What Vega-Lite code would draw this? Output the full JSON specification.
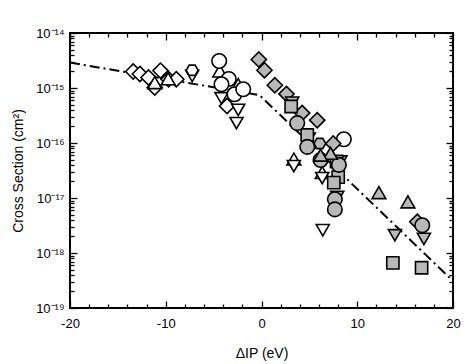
{
  "$schema": "https://vega.github.io/schema/vega-lite/v6.json",
  "width": 383,
  "height": 275,
  "autosize": "none",
  "padding": {"left": 70, "top": 33, "right": 21, "bottom": 56},
  "background": "white",
  "config": {
    "view": {"stroke": "black", "strokeWidth": 2},
    "font": "Liberation Sans",
    "axis": {"domain": false, "grid": false, "labelFlush": false, "labelOverlap": false, "tickColor": "black", "tickWidth": 1.3, "labelColor": "black", "titleColor": "black", "labelFont": "Liberation Sans", "titleFont": "Liberation Sans", "labelFontSize": 13, "titleFontSize": 14, "titleFontWeight": "normal"}
  },
  "datasets": {
    "fit": [
      {"x": -20, "y": 2.9e-15},
      {"x": -0.2, "y": 7.4e-16},
      {"x": 20, "y": 3.1e-19}
    ],
    "open": [
      {"x": -13.4, "y": 2.0e-15, "marker": "diamond", "fill": "open"},
      {"x": -12.7, "y": 1.8e-15, "marker": "diamond", "fill": "open"},
      {"x": -11.8, "y": 1.55e-15, "marker": "diamond", "fill": "open"},
      {"x": -10.55, "y": 2.07e-15, "marker": "diamond", "fill": "open"},
      {"x": -9.7, "y": 1.44e-15, "marker": "diamond", "fill": "open"},
      {"x": -8.9, "y": 1.44e-15, "marker": "diamond", "fill": "open"},
      {"x": -11.15, "y": 1.02e-15, "marker": "diamond", "fill": "open"},
      {"x": -3.6, "y": 4.7e-16, "marker": "diamond", "fill": "open"},
      {"x": -11.15, "y": 1.25e-15, "marker": "triangle-up", "fill": "open"},
      {"x": -9.75, "y": 1.47e-15, "marker": "triangle-up", "fill": "open"},
      {"x": -4.36, "y": 2.04e-15, "marker": "triangle-up", "fill": "open"},
      {"x": -2.43, "y": 1.15e-15, "marker": "triangle-up", "fill": "open"},
      {"x": 3.38, "y": 5.1e-17, "marker": "triangle-up", "fill": "open"},
      {"x": 6.34, "y": 2.9e-17, "marker": "triangle-up", "fill": "open"},
      {"x": -7.24, "y": 1.65e-15, "marker": "triangle-down", "fill": "open"},
      {"x": -4.18, "y": 6.5e-16, "marker": "triangle-down", "fill": "open"},
      {"x": -2.43, "y": 4.0e-16, "marker": "triangle-down", "fill": "open"},
      {"x": -2.61, "y": 2.3e-16, "marker": "triangle-down", "fill": "open"},
      {"x": 3.38, "y": 3.8e-17, "marker": "triangle-down", "fill": "open"},
      {"x": 6.34, "y": 2.3e-17, "marker": "triangle-down", "fill": "open"},
      {"x": 6.4, "y": 2.6e-18, "marker": "triangle-down", "fill": "open"},
      {"x": -4.42, "y": 3.1e-15, "marker": "circle", "fill": "open"},
      {"x": -3.42, "y": 1.46e-15, "marker": "circle", "fill": "open"},
      {"x": -4.18, "y": 1.17e-15, "marker": "circle", "fill": "open"},
      {"x": -2.82, "y": 7.7e-16, "marker": "circle", "fill": "open"},
      {"x": -1.91, "y": 9.5e-16, "marker": "circle", "fill": "open"},
      {"x": 8.6, "y": 1.17e-16, "marker": "circle", "fill": "open"}
    ],
    "filled": [
      {"x": -0.28, "y": 3.3e-15, "marker": "diamond", "fill": "filled"},
      {"x": 0.31, "y": 2.1e-15, "marker": "diamond", "fill": "filled"},
      {"x": 1.39, "y": 1.12e-15, "marker": "diamond", "fill": "filled"},
      {"x": 2.61, "y": 7.8e-16, "marker": "diamond", "fill": "filled"},
      {"x": 4.25, "y": 3.5e-16, "marker": "diamond", "fill": "filled"},
      {"x": 5.82, "y": 2.6e-16, "marker": "diamond", "fill": "filled"},
      {"x": 7.49, "y": 9.8e-17, "marker": "diamond", "fill": "filled"},
      {"x": 16.27, "y": 3.7e-18, "marker": "diamond", "fill": "filled"},
      {"x": 3.21, "y": 5.4e-16, "marker": "triangle-down", "fill": "filled"},
      {"x": 4.94, "y": 1.2e-16, "marker": "triangle-down", "fill": "filled"},
      {"x": 8.25, "y": 4.6e-17, "marker": "triangle-down", "fill": "filled"},
      {"x": 7.91, "y": 1.05e-17, "marker": "triangle-down", "fill": "filled"},
      {"x": 13.93, "y": 2.1e-18, "marker": "triangle-down", "fill": "filled"},
      {"x": 16.96, "y": 1.8e-18, "marker": "triangle-down", "fill": "filled"},
      {"x": 3.1, "y": 4.6e-16, "marker": "square", "fill": "filled"},
      {"x": 4.78, "y": 1.4e-16, "marker": "square", "fill": "filled"},
      {"x": 7.84, "y": 4.6e-17, "marker": "square", "fill": "filled"},
      {"x": 8.01, "y": 2.4e-17, "marker": "square", "fill": "filled"},
      {"x": 7.55, "y": 1.9e-17, "marker": "square", "fill": "filled"},
      {"x": 13.72, "y": 6.6e-19, "marker": "square", "fill": "filled"},
      {"x": 16.72, "y": 5.4e-19, "marker": "square", "fill": "filled"},
      {"x": 3.73, "y": 2.3e-16, "marker": "circle", "fill": "filled"},
      {"x": 4.78, "y": 8.5e-17, "marker": "circle", "fill": "filled"},
      {"x": 6.17, "y": 4.9e-17, "marker": "circle", "fill": "filled"},
      {"x": 8.08, "y": 4.0e-17, "marker": "circle", "fill": "filled"},
      {"x": 7.66, "y": 9.5e-18, "marker": "circle", "fill": "filled"},
      {"x": 7.66, "y": 6.2e-18, "marker": "circle", "fill": "filled"},
      {"x": 16.79, "y": 3.2e-18, "marker": "circle", "fill": "filled"},
      {"x": 7.21, "y": 6.5e-17, "marker": "triangle-up", "fill": "filled"},
      {"x": 6.17, "y": 6.0e-17, "marker": "triangle-up", "fill": "filled"},
      {"x": 12.26, "y": 1.25e-17, "marker": "triangle-up", "fill": "filled"},
      {"x": 15.29, "y": 8.5e-18, "marker": "triangle-up", "fill": "filled"}
    ],
    "hex": [
      {"x": -7.24, "y": 2.1e-15, "fill": "open"},
      {"x": 6.09, "y": 9.8e-17, "fill": "filled"}
    ]
  },
  "resolve": {"axis": {"x": "independent", "y": "independent"}},
  "layer": [
    {
      "data": {"name": "fit"},
      "mark": {"type": "line", "color": "black", "strokeWidth": 2, "strokeDash": [10, 4, 2, 4]},
      "encoding": {
        "x": {"field": "x", "type": "quantitative", "scale": {"domain": [-20, 20], "nice": false},
              "axis": {"orient": "bottom", "values": [-20, -10, 0, 10, 20], "tickSize": -7, "labelPadding": 16, "title": "ΔIP (eV)", "titlePadding": 16,
                       "labelExpr": "(datum.value < 0 ? '-' : '') + abs(datum.value)"}},
        "y": {"field": "y", "type": "quantitative", "scale": {"type": "log", "domain": [1e-19, 1e-14], "nice": false},
              "axis": {"orient": "left", "values": [1e-19, 1e-18, 1e-17, 1e-16, 1e-15, 1e-14], "tickSize": -7, "labelPadding": 13, "title": "Cross Section (cm²)", "titlePadding": 10,
                       "labelExpr": "datum.value < 5e-19 ? '10⁻¹⁹' : datum.value < 5e-18 ? '10⁻¹⁸' : datum.value < 5e-17 ? '10⁻¹⁷' : datum.value < 5e-16 ? '10⁻¹⁶' : datum.value < 5e-15 ? '10⁻¹⁵' : '10⁻¹⁴'"}}
      }
    },
    {
      "data": {"name": "open"},
      "mark": {"type": "point", "filled": true, "stroke": "black", "strokeWidth": 1.6, "opacity": 1},
      "encoding": {
        "x": {"field": "x", "type": "quantitative", "scale": {"domain": [-20, 20], "nice": false},
              "axis": {"orient": "bottom", "values": [-18, -16, -14, -12, -8, -6, -4, -2, 2, 4, 6, 8, 12, 14, 16, 18], "tickSize": -4, "labels": false, "title": null}},
        "y": {"field": "y", "type": "quantitative", "scale": {"type": "log", "domain": [1e-19, 1e-14], "nice": false},
              "axis": {"orient": "left", "values": [2e-19, 3e-19, 4e-19, 5e-19, 6e-19, 7e-19, 8e-19, 9e-19, 2e-18, 3e-18, 4e-18, 5e-18, 6e-18, 7e-18, 8e-18, 9e-18, 2e-17, 3e-17, 4e-17, 5e-17, 6e-17, 7e-17, 8e-17, 9e-17, 2e-16, 3e-16, 4e-16, 5e-16, 6e-16, 7e-16, 8e-16, 9e-16, 2e-15, 3e-15, 4e-15, 5e-15, 6e-15, 7e-15, 8e-15, 9e-15], "tickSize": -4, "labels": false, "title": null}},
        "shape": {"field": "marker", "type": "nominal", "scale": {"domain": ["diamond", "circle", "triangle-up", "triangle-down", "square"], "range": ["diamond", "circle", "triangle-up", "triangle-down", "square"]}, "legend": null},
        "size": {"field": "marker", "type": "nominal", "scale": {"domain": ["diamond", "circle", "triangle-up", "triangle-down", "square"], "range": [230, 150, 170, 170, 130]}, "legend": null},
        "color": {"field": "fill", "type": "nominal", "scale": {"domain": ["open", "filled"], "range": ["white", "#b8b8b8"]}, "legend": null}
      }
    },
    {
      "data": {"name": "filled"},
      "mark": {"type": "point", "filled": true, "stroke": "black", "strokeWidth": 1.6, "opacity": 1},
      "encoding": {
        "x": {"field": "x", "type": "quantitative", "scale": {"domain": [-20, 20], "nice": false},
              "axis": {"orient": "top", "values": [-20, -10, 0, 10, 20], "tickSize": -7, "labels": false, "title": null}},
        "y": {"field": "y", "type": "quantitative", "scale": {"type": "log", "domain": [1e-19, 1e-14], "nice": false},
              "axis": {"orient": "right", "values": [1e-19, 1e-18, 1e-17, 1e-16, 1e-15, 1e-14], "tickSize": -7, "labels": false, "title": null}},
        "shape": {"field": "marker", "type": "nominal", "legend": null},
        "size": {"field": "marker", "type": "nominal", "legend": null},
        "color": {"field": "fill", "type": "nominal", "legend": null}
      }
    },
    {
      "data": {"name": "hex"},
      "mark": {"type": "point", "filled": true, "stroke": "black", "strokeWidth": 1.6, "size": 140, "opacity": 1, "shape": "M-0.5,-0.87L0.5,-0.87L1,0L0.5,0.87L-0.5,0.87L-1,0Z"},
      "encoding": {
        "x": {"field": "x", "type": "quantitative", "scale": {"domain": [-20, 20], "nice": false},
              "axis": {"orient": "top", "values": [-18, -16, -14, -12, -8, -6, -4, -2, 2, 4, 6, 8, 12, 14, 16, 18], "tickSize": -4, "labels": false, "title": null}},
        "y": {"field": "y", "type": "quantitative", "scale": {"type": "log", "domain": [1e-19, 1e-14], "nice": false},
              "axis": {"orient": "right", "values": [2e-19, 3e-19, 4e-19, 5e-19, 6e-19, 7e-19, 8e-19, 9e-19, 2e-18, 3e-18, 4e-18, 5e-18, 6e-18, 7e-18, 8e-18, 9e-18, 2e-17, 3e-17, 4e-17, 5e-17, 6e-17, 7e-17, 8e-17, 9e-17, 2e-16, 3e-16, 4e-16, 5e-16, 6e-16, 7e-16, 8e-16, 9e-16, 2e-15, 3e-15, 4e-15, 5e-15, 6e-15, 7e-15, 8e-15, 9e-15], "tickSize": -4, "labels": false, "title": null}},
        "color": {"field": "fill", "type": "nominal", "legend": null}
      }
    }
  ]
}
